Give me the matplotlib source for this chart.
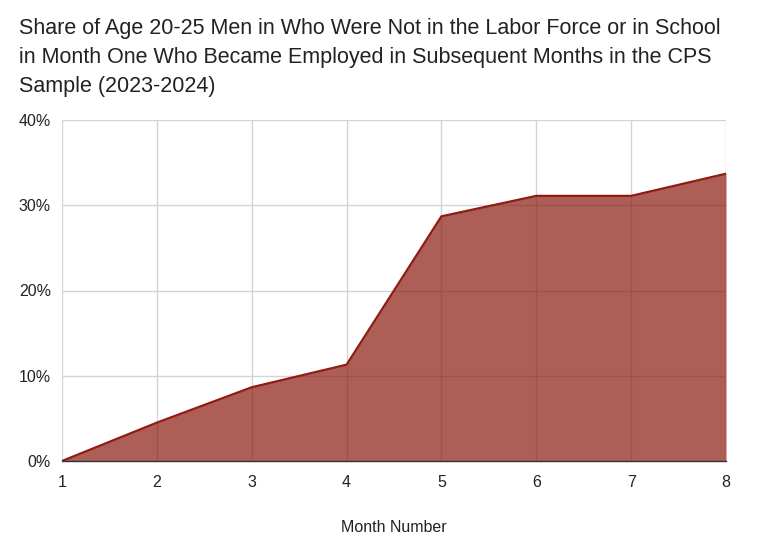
import matplotlib
matplotlib.use("Agg")
import matplotlib.pyplot as plt
from matplotlib.ticker import FuncFormatter

months = [1, 2, 3, 4, 5, 6, 7, 8]
share_employed = [0.0, 4.5, 8.65, 11.3, 28.7, 31.1, 31.1, 33.7]
y_ticks = [0, 10, 20, 30, 40]
title = ("Share of Age 20-25 Men in Who Were Not in the Labor Force or in School\n"
         "in Month One Who Became Employed in Subsequent Months in the CPS\n"
         "Sample (2023-2024)")

plt.rcParams['font.family'] = ['Liberation Sans', 'DejaVu Sans']

fig = plt.figure(figsize=(7.68, 5.53), dpi=100)
W, H = 768, 553
left, right, top, bottom = 62, 726, 120, 461
ax = fig.add_axes([left / W, 1 - bottom / H, (right - left) / W, (bottom - top) / H])

line_col = '#8e1c12'
ax.fill_between(months, share_employed, 0, color='#8b1a10', alpha=0.7, lw=0, zorder=3)
ax.plot(months, share_employed, color=line_col, lw=1.6, zorder=4)

ax.set_xlim(1, 8)
ax.set_ylim(0, 40)
ax.set_xticks(months)
ax.set_yticks(y_ticks)
ax.yaxis.set_major_formatter(FuncFormatter(lambda v, p: f"{int(v)}%"))
ax.grid(True, color='#d4d4d4', lw=1, zorder=1)
ax.set_axisbelow(True)
for s in ['top', 'right', 'left']:
    ax.spines[s].set_visible(False)
ax.spines['bottom'].set_color('#333333')
ax.spines['bottom'].set_linewidth(1)
ax.spines['bottom'].set_zorder(5)
ax.tick_params(axis='both', length=0, labelsize=11.5, colors='#222222')
ax.tick_params(axis='y', pad=8)
ax.tick_params(axis='x', pad=10)

ax.set_xlabel("Month Number", fontsize=11.5, color='#222222', labelpad=22)

fig.text(19 / W, 1 - 18 / H, title, ha='left', va='top', fontsize=15.5,
         color='#222222', linespacing=1.5)

fig.savefig("out.png", dpi=100)
